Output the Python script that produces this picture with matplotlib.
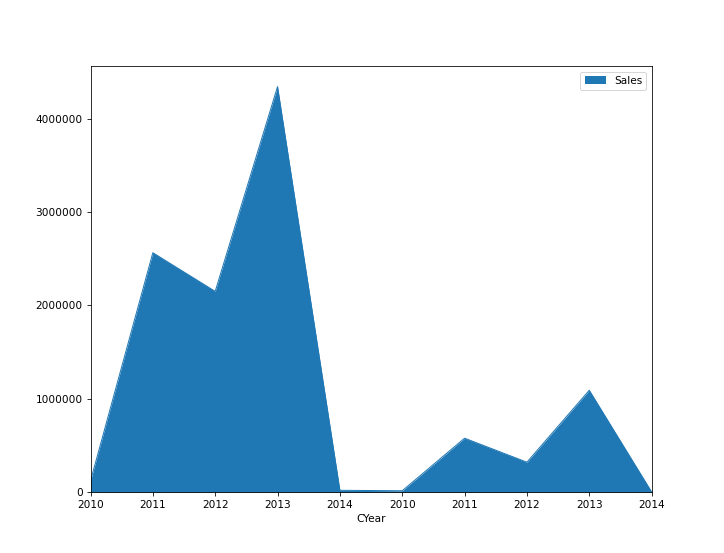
import matplotlib
matplotlib.use("Agg")
from matplotlib import pyplot

years = ["2010", "2011", "2012", "2013", "2014", "2010", "2011", "2012", "2013", "2014"]
sales = [120000, 2564000, 2150000, 4342000, 20000, 15000, 578000, 321000, 1091000, 3000]

if __name__ == "__main__":
    # the original looks like a 72 dpi save with a slightly larger font
    pyplot.rcParams["font.size"] = 10.5
    pyplot.rcParams["xtick.major.size"] = 4.3
    pyplot.rcParams["ytick.major.size"] = 4.3

    fig = pyplot.figure(figsize=(724 / 72.0, 553 / 72.0), dpi=72)
    ax = fig.add_subplot(111)

    x = list(range(len(sales)))
    color = "#1f77b4"
    ax.fill_between(x, 0, sales, color=color, label="Sales", linewidth=0)
    ax.plot(x, sales, color=color, linewidth=1)

    ax.set_xlim(0, len(sales) - 1)
    ax.set_ylim(0, max(sales) * 1.05)
    ax.set_xticks(x)
    ax.set_xticklabels(years)
    ax.ticklabel_format(axis="y", style="plain", useOffset=False)
    ax.set_xlabel("CYear")
    ax.legend(loc="upper right")

    fig.savefig("out.png", dpi=72)
